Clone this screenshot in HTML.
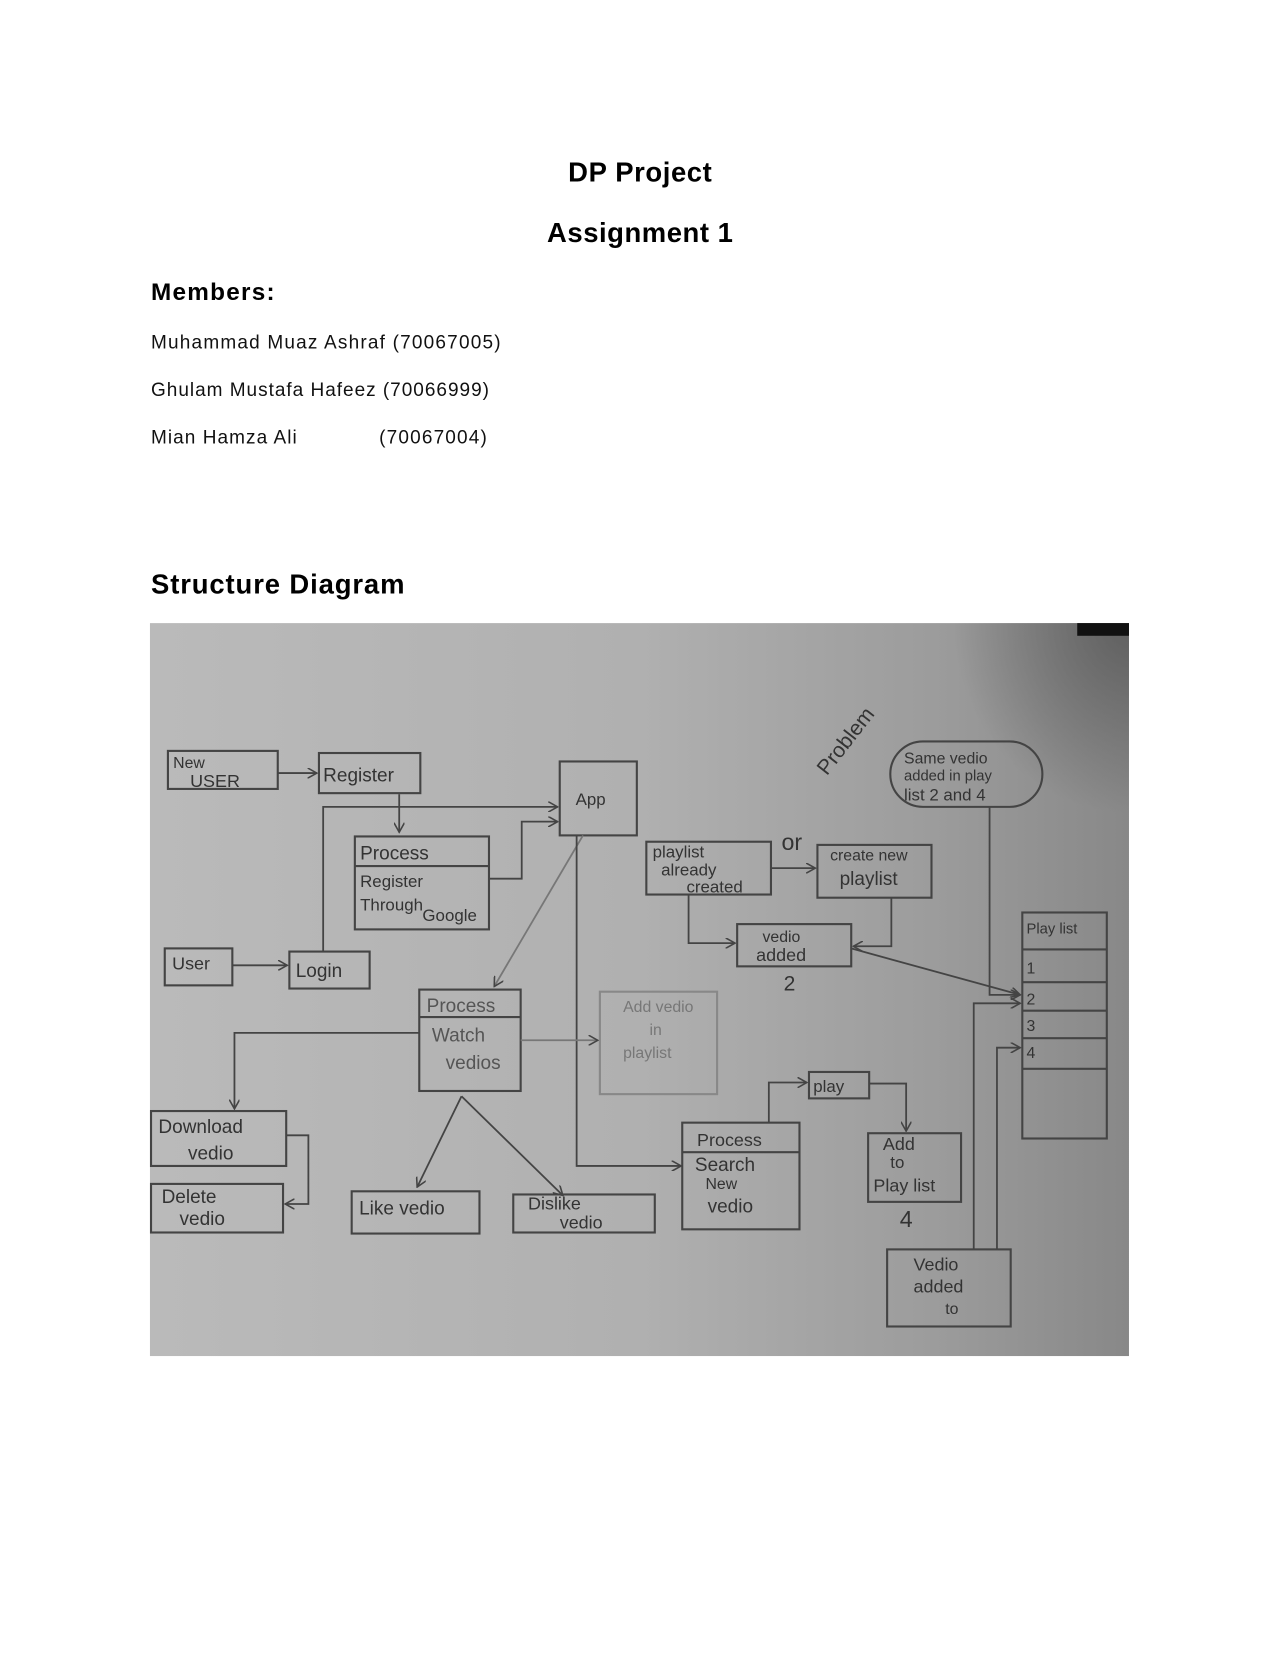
<!DOCTYPE html>
<html><head><meta charset="utf-8"><style>
html,body{margin:0;padding:0;background:#fff;}
svg{display:block}
</style></head><body>
<svg width="1280" height="1656" viewBox="0 0 1212 1568" preserveAspectRatio="none" xmlns="http://www.w3.org/2000/svg" font-family="Liberation Sans, sans-serif">
<defs>
<marker id="a" markerWidth="10" markerHeight="10" refX="9" refY="5" orient="auto" markerUnits="userSpaceOnUse"><path d="M0,0 L9,5 L0,10" fill="none" stroke="#444" stroke-width="1.5"/></marker>
<linearGradient id="bg" x1="0" y1="0" x2="1" y2="0"><stop offset="0" stop-color="#bababa"/><stop offset="0.5" stop-color="#b0b0b0"/><stop offset="0.8" stop-color="#9c9c9c"/><stop offset="1" stop-color="#888"/></linearGradient>
<radialGradient id="tr" cx="1" cy="0" r="0.45"><stop offset="0" stop-color="#555" stop-opacity="0.8"/><stop offset="1" stop-color="#555" stop-opacity="0"/></radialGradient>
</defs>
<rect width="1212" height="1568" fill="#fff"/>
<g font-weight="bold" fill="#000">
<text x="606" y="172" font-size="26" text-anchor="middle" textLength="136">DP Project</text>
<text x="606" y="229" font-size="26" text-anchor="middle" textLength="176">Assignment 1</text>
<text x="143" y="284" font-size="23" textLength="117">Members:</text>
<text x="143" y="562" font-size="26" textLength="240">Structure Diagram</text>
</g>
<g font-size="18" fill="#111">
<text x="143" y="330" textLength="331">Muhammad Muaz Ashraf (70067005)</text>
<text x="143" y="375" textLength="320">Ghulam Mustafa Hafeez (70066999)</text>
<text x="143" y="420" textLength="138">Mian Hamza Ali</text>
<text x="359" y="420" textLength="102">(70067004)</text>
</g>
<rect x="142" y="590" width="927" height="694" fill="url(#bg)"/>
<rect x="700" y="590" width="369" height="400" fill="url(#tr)"/>
<rect x="1020" y="590" width="49" height="12" fill="#111"/>
<g fill="none" stroke="#444" stroke-width="2">
<rect x="159" y="711" width="104" height="36"/>
<rect x="302" y="713" width="96" height="38"/>
<rect x="530" y="721" width="73" height="70"/>
<rect x="336" y="792" width="127" height="88"/><line x1="336" y1="820" x2="463" y2="820"/>
<rect x="156" y="898" width="64" height="35"/>
<rect x="274" y="901" width="76" height="35"/>
<rect x="397" y="937" width="96" height="96"/><line x1="397" y1="963" x2="493" y2="963"/>
<rect x="568" y="939" width="111" height="97" stroke="#888"/>
<rect x="612" y="797" width="118" height="50"/>
<rect x="774" y="800" width="108" height="50"/>
<rect x="698" y="875" width="108" height="40"/>
<rect x="968" y="864" width="80" height="214"/>
<line x1="968" y1="899" x2="1048" y2="899"/><line x1="968" y1="930" x2="1048" y2="930"/><line x1="968" y1="957" x2="1048" y2="957"/><line x1="968" y1="983" x2="1048" y2="983"/><line x1="968" y1="1012" x2="1048" y2="1012"/>
<rect x="143" y="1052" width="128" height="52"/>
<rect x="143" y="1121" width="125" height="46"/>
<rect x="333" y="1128" width="121" height="40"/>
<rect x="486" y="1131" width="134" height="36"/>
<rect x="646" y="1063" width="111" height="101"/><line x1="646" y1="1091" x2="757" y2="1091"/>
<rect x="766" y="1015" width="57" height="25"/>
<rect x="822" y="1073" width="88" height="65"/>
<rect x="840" y="1183" width="117" height="73"/>
<rect x="843" y="702" width="144" height="62" rx="31"/>
</g>
<g fill="none" stroke="#444" stroke-width="1.7">
<path d="M263,732 H300" marker-end="url(#a)"/>
<path d="M378,752 V788" marker-end="url(#a)"/>
<path d="M306,901 V764 H528" marker-end="url(#a)"/>
<path d="M463,832 H494 V778 H528" marker-end="url(#a)"/>
<path d="M220,914 H272" marker-end="url(#a)"/>
<path d="M552,791 L468,934" stroke="#777" marker-end="url(#a)"/>
<path d="M546,791 V1104 H645" marker-end="url(#a)"/>
<path d="M493,985 H566" stroke="#777" marker-end="url(#a)"/>
<path d="M397,978 H222 V1050" marker-end="url(#a)"/>
<path d="M271,1075 H292 V1140 H270" marker-end="url(#a)"/>
<path d="M437,1038 L395,1124" marker-end="url(#a)"/>
<path d="M437,1038 L533,1132" marker-end="url(#a)"/>
<path d="M730,822 H772" marker-end="url(#a)"/>
<path d="M652,847 V893 H696" marker-end="url(#a)"/>
<path d="M844,850 V896 H808" marker-end="url(#a)"/>
<path d="M806,898 L966,942" marker-end="url(#a)"/>
<path d="M937,764 V942 H966" marker-end="url(#a)"/>
<path d="M922,1183 V950 H966" marker-end="url(#a)"/>
<path d="M944,1183 V992 H966" marker-end="url(#a)"/>
<path d="M728,1063 V1025 H764" marker-end="url(#a)"/>
<path d="M823,1026 H858 V1071" marker-end="url(#a)"/>
</g>
<g fill="#333" font-size="18" font-family="Liberation Sans, sans-serif">
<text x="164" y="727" font-size="15">New</text><text x="180" y="745" font-size="17">USER</text>
<text x="306" y="740">Register</text>
<text x="545" y="762" font-size="16">App</text>
<text x="341" y="814">Process</text>
<text x="341" y="840" font-size="16">Register</text><text x="341" y="862" font-size="16">Through</text><text x="400" y="872" font-size="16">Google</text>
<text x="163" y="918" font-size="17">User</text>
<text x="280" y="925">Login</text>
<text x="404" y="958" fill="#555">Process</text>
<text x="409" y="986" fill="#555">Watch</text><text x="422" y="1012" fill="#555">vedios</text>
<text x="590" y="958" font-size="15" fill="#777">Add vedio</text><text x="615" y="980" font-size="15" fill="#777">in</text><text x="590" y="1002" font-size="15" fill="#777">playlist</text>
<text x="618" y="812" font-size="16">playlist</text><text x="626" y="829" font-size="16">already</text><text x="650" y="845" font-size="16">created</text>
<text x="740" y="805" font-size="22">or</text>
<text x="786" y="815" font-size="15">create new</text><text x="795" y="838" font-size="18">playlist</text>
<text x="722" y="892" font-size="15">vedio</text><text x="716" y="910" font-size="17">added</text>
<text x="742" y="938" font-size="20">2</text>
<text transform="translate(783,735) rotate(-52)" font-size="20">Problem</text>
<text x="856" y="723" font-size="15">Same vedio</text><text x="856" y="739" font-size="14">added  in play</text><text x="856" y="758" font-size="16">list 2 and 4</text>
<text x="972" y="884" font-size="14">Play list</text>
<text x="972" y="922" font-size="15">1</text><text x="972" y="951" font-size="15">2</text><text x="972" y="976" font-size="15">3</text><text x="972" y="1002" font-size="15">4</text>
<text x="150" y="1073">Download</text><text x="178" y="1098">vedio</text>
<text x="153" y="1139">Delete</text><text x="170" y="1160">vedio</text>
<text x="340" y="1150">Like vedio</text>
<text x="500" y="1145" font-size="17">Dislike</text><text x="530" y="1163" font-size="17">vedio</text>
<text x="660" y="1085" font-size="17">Process</text>
<text x="658" y="1109">Search</text><text x="668" y="1126" font-size="15">New</text><text x="670" y="1148">vedio</text>
<text x="770" y="1034" font-size="16">play</text>
<text x="836" y="1089" font-size="17">Add</text><text x="843" y="1106" font-size="16">to</text><text x="827" y="1128" font-size="17">Play list</text>
<text x="852" y="1162" font-size="22">4</text>
<text x="865" y="1203" font-size="17">Vedio</text><text x="865" y="1224" font-size="17">added</text><text x="895" y="1244" font-size="15">to</text>
</g>
</svg>
</body></html>
